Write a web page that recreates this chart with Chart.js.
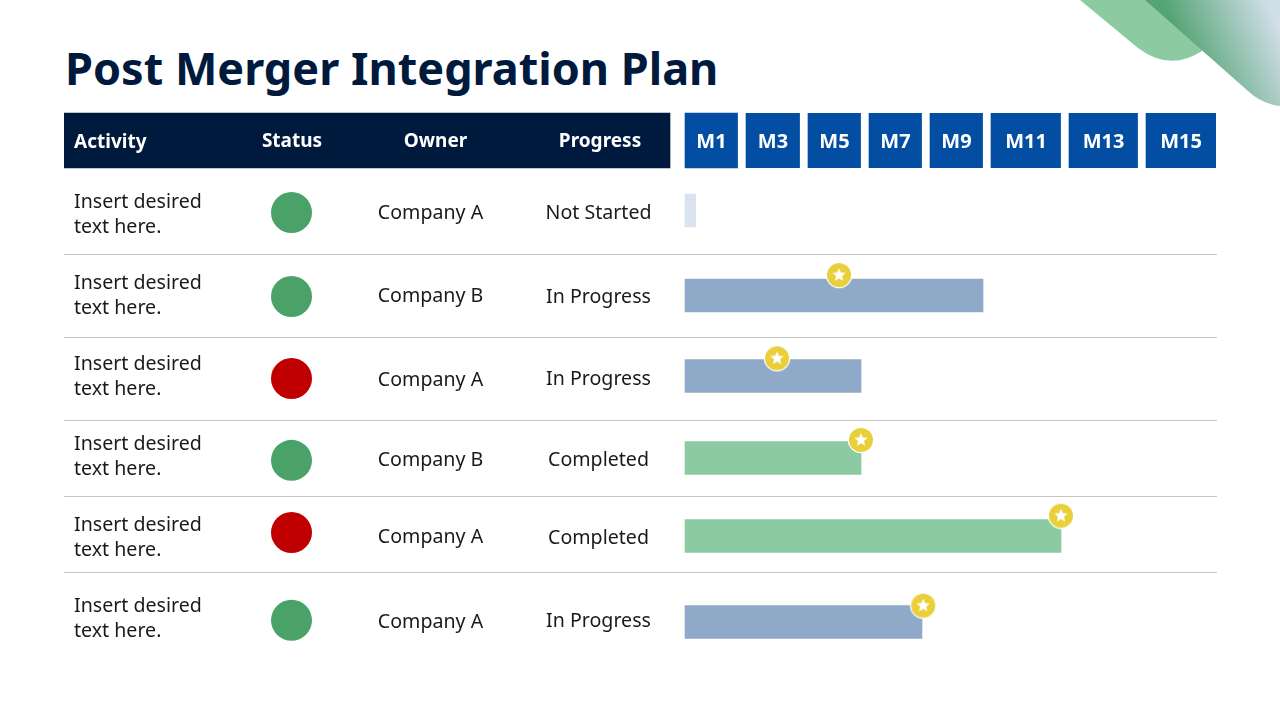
<!DOCTYPE html>
<html>
<head>
<meta charset="utf-8">
<title>Post Merger Integration Plan</title>
<script src="https://cdn.jsdelivr.net/npm/chart.js@4/dist/chart.umd.min.js"></script>
<style>
  html, body { margin: 0; padding: 0; background: #fff; overflow: hidden; }
  #slide { position: relative; width: 1280px; height: 720px; font-family: "Noto Sans", sans-serif; }
  #slide svg, #slide canvas { position: absolute; left: 0; top: 0; }
  h1 { position: absolute; left: 65px; top: 36px; margin: 0; font-size: 45px; line-height: 64px; font-weight: 700; color: #001a3d; white-space: nowrap; }
</style>
</head>
<body>
<div id="slide">
  <svg width="1280" height="720">
    <defs>
      <linearGradient id="fade" x1="1175" y1="30" x2="1263" y2="-8" gradientUnits="userSpaceOnUse">
        <stop offset="0" stop-color="#55a474"/>
        <stop offset="1" stop-color="#d0dee8"/>
      </linearGradient>
    </defs>
    <path d="M1080 0 L1138 48 Q1170 72 1202 51 L1210 40 L1210 0 Z" fill="#8ccba1"/>
    <path d="M1145 0 L1280 0 L1280 106 Q1262 104 1248 91 Z" fill="url(#fade)"/>
  </svg>
  <h1>Post Merger Integration Plan</h1>
  <canvas id="plan" width="1280" height="720"></canvas>
</div>
<script>
const tableHeaders = ["Activity", "Status", "Owner", "Progress"];
const months = ["M1", "M3", "M5", "M7", "M9", "M11", "M13", "M15"];
const activities = ["Insert desired", "text here."];
const statuses = ["ok", "ok", "late", "ok", "late", "ok"];
const owners = ["Company A", "Company B", "Company A", "Company B", "Company A", "Company A"];
const progress = ["Not Started", "In Progress", "In Progress", "Completed", "Completed", "In Progress"];

// Bar ends and milestones count header columns from the start of M1
const barEnds = [0.2, 5, 3, 3, 6, 4];
const milestones = [null, 2.64, 1.63, 3, 6, 4.02];
const milestoneRows = [null, 1.76, 2.78, 3.78, 4.74, 5.81];
const statusRows = [1.024, 2.012, 3.03, 4.03, 4.955, 5.98];
const dividerRows = [1.52, 2.52, 3.54, 4.49, 5.42];

const statusColors = { ok: "#4aa269", late: "#c00000" };
const progressColors = { "Not Started": "#dae3f0", "In Progress": "#8eaac8", "Completed": "#8ccba1" };

// Layout, in canvas pixels
const monthStops = [685, 738, 800, 861, 922, 983, 1061, 1138, 1216];
const tableStops = [64, 291.5, 430.5, 598.5, 670];
const rowStops = [140.5, 210.5, 295.5, 376, 458, 536, 622, 720];
const headerTextX = [74, 292, 435.5, 600];
const activityY = [214.5, 295.5, 377, 457, 538, 619];
const ownerY = [213, 296, 380, 460, 537, 622];
const progressY = [213, 297, 379, 460, 538, 621];

// Linear scale whose unit width changes from one stop to the next
class StopScale extends Chart.LinearScale {
  static id = "stops";
  getPixelForValue(value) {
    const stops = this.options.stops;
    const i = Math.max(0, Math.min(stops.length - 2, Math.floor(value)));
    return stops[i] + (value - i) * (stops[i + 1] - stops[i]);
  }
  getValueForPixel(pixel) {
    const stops = this.options.stops;
    let i = 0;
    while (i < stops.length - 2 && pixel > stops[i + 1]) i++;
    return i + (pixel - stops[i]) / (stops[i + 1] - stops[i]);
  }
}
Chart.register(StopScale);

function milestoneIcon() {
  const icon = document.createElement("canvas");
  icon.width = 28;
  icon.height = 28;
  const ctx = icon.getContext("2d");
  ctx.fillStyle = "#fff";
  ctx.beginPath();
  ctx.arc(14, 14, 13.2, 0, Math.PI * 2);
  ctx.fill();
  ctx.fillStyle = "#e9d03b";
  ctx.beginPath();
  ctx.arc(14, 14, 12, 0, Math.PI * 2);
  ctx.fill();
  ctx.fillStyle = "#fff";
  ctx.beginPath();
  for (let i = 0; i < 10; i++) {
    const r = i % 2 ? 3.2 : 7;
    const a = -Math.PI / 2 + i * Math.PI / 5;
    ctx.lineTo(14 + r * Math.cos(a), 14 + r * Math.sin(a));
  }
  ctx.closePath();
  ctx.fill();
  return icon;
}

// Table text and the labels inside the header cells
const tableText = {
  id: "tableText",
  afterDraw(chart) {
    const { ctx, scales } = chart;
    const put = (text, x, y) => ctx.fillText(text, x, y);
    ctx.save();
    ctx.textBaseline = "middle";

    ctx.font = "700 19px 'Noto Sans'";
    ctx.fillStyle = "#fff";
    const headY = scales.y.getPixelForValue(0) + 1;
    tableHeaders.forEach((text, i) => {
      ctx.textAlign = i === 0 ? "left" : "center";
      put(text, headerTextX[i], i === 0 ? headY + 1 : headY);
    });
    ctx.font = "700 20px 'Noto Sans'";
    ctx.textAlign = "center";
    months.forEach((text, i) => {
      const left = scales.x.getPixelForValue(i) + (i ? 8 : 0);
      put(text, (left + scales.x.getPixelForValue(i + 1)) / 2, headY + 1);
    });

    ctx.font = "400 19.6px 'Noto Sans'";
    ctx.fillStyle = "#1a1a1a";
    owners.forEach((owner, i) => {
      ctx.textAlign = "left";
      put(activities[0], headerTextX[0], activityY[i] - 12.5);
      put(activities[1], headerTextX[0], activityY[i] + 12.5);
      ctx.textAlign = "center";
      put(owner, scales.table.getPixelForValue(2), ownerY[i]);
      put(progress[i], scales.table.getPixelForValue(3), progressY[i]);
    });
    ctx.restore();
  },
};

new Chart(document.getElementById("plan").getContext("2d"), {
  type: "bar",
  data: {
    datasets: [
      {
        indexAxis: "y",
        grouped: false,
        xAxisID: "table",
        yAxisID: "y",
        barThickness: 55,
        backgroundColor: "#001a3d",
        order: 2,
        data: [{ x: [0, tableHeaders.length], y: 0 }],
      },
      {
        indexAxis: "y",
        grouped: false,
        xAxisID: "x",
        yAxisID: "y",
        barThickness: 55,
        backgroundColor: "#034ea2",
        borderColor: "#fff",
        borderSkipped: false,
        borderWidth: (ctx) => ({ left: ctx.dataIndex ? 8 : 0, right: 0, top: 0, bottom: 0 }),
        order: 2,
        data: months.map((m, i) => ({ x: [i, i + 1], y: 0 })),
      },
      {
        indexAxis: "y",
        grouped: false,
        xAxisID: "x",
        yAxisID: "y",
        barThickness: 33,
        backgroundColor: progress.map(p => progressColors[p]),
        order: 2,
        data: barEnds.map((end, i) => ({ x: [0, end], y: i + 1 })),
      },
      {
        type: "scatter",
        xAxisID: "table",
        yAxisID: "y",
        pointRadius: 20.5,
        pointBorderWidth: 0,
        pointBackgroundColor: statuses.map(s => statusColors[s]),
        order: 1,
        data: statusRows.map(y => ({ x: 1, y })),
      },
      {
        type: "scatter",
        xAxisID: "x",
        yAxisID: "y",
        pointStyle: milestoneIcon(),
        order: 0,
        data: milestones.map((x, i) => ({ x, y: milestoneRows[i] })),
      },
    ],
  },
  options: {
    responsive: false,
    animation: false,
    events: [],
    layout: { padding: { left: 64, right: 63, top: 0, bottom: 0 } },
    plugins: {
      legend: { display: false },
      title: { display: false },
      tooltip: { enabled: false },
    },
    scales: {
      x: { type: "stops", axis: "x", stops: monthStops, min: 0, max: months.length, display: false },
      table: { type: "stops", axis: "x", stops: tableStops, min: 0, max: tableHeaders.length, display: false },
      y: {
        type: "stops",
        axis: "y",
        position: "left",
        offset: false,
        stops: rowStops,
        min: 0,
        max: rowStops.length - 1,
        afterBuildTicks: (scale) => { scale.ticks = dividerRows.map(value => ({ value })); },
        ticks: { display: false, autoSkip: false },
        border: { display: false },
        grid: { offset: false, color: "#c4c4c4", lineWidth: 1, drawTicks: false },
      },
    },
  },
  plugins: [tableText],
});
</script>
</body>
</html>
